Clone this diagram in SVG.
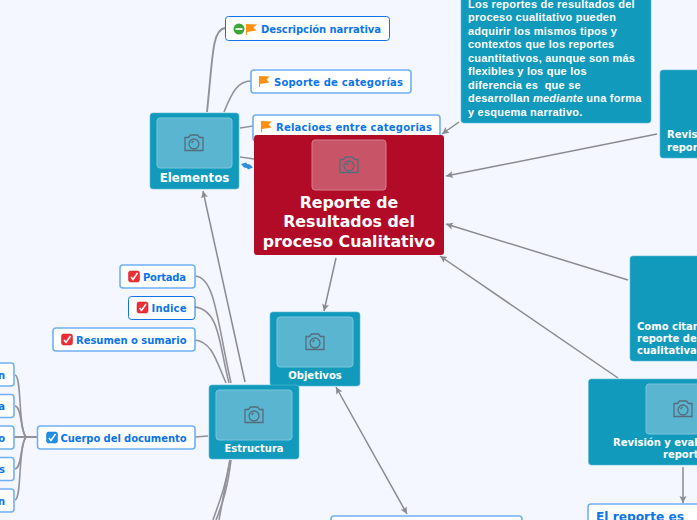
<svg xmlns="http://www.w3.org/2000/svg" width="697" height="520" viewBox="0 0 697 520">
<style>
text{font-family:"DejaVu Sans",sans-serif;font-weight:700}
.t{fill:#129abd;stroke:#5cb8d3;stroke-width:.6}
.im{fill:#5ab6d0;stroke:#79c5da;stroke-width:1}
.im2{fill:#c85468;stroke:#d77e8d;stroke-width:1}
.w{fill:#fff;stroke:#1473e6;stroke-width:1}
.w2{fill:#fff;stroke:#6fb0f5;stroke-width:1.6}
.l{fill:#0b74ea;font-size:10px}
.h{fill:#fff;font-size:10px}
.c{fill:none;stroke:#92929b;stroke-width:1.6}
.a{fill:none;stroke:#8a8a92;stroke-width:1.5;marker-end:url(#ar)}
.cam{fill:none;stroke:#566c7d;stroke-width:1.3}
.fl{fill:#fd8f12}
.box{fill:#ef2d35;stroke:#b81c22;stroke-width:.5}
.boxb{fill:#1e90e8;stroke:#1470c0;stroke-width:.5}
.ck{fill:none;stroke:#fff;stroke-width:1.5}
</style>
<defs>
<marker id="ar" markerWidth="8" markerHeight="8" refX="7" refY="4" orient="auto" markerUnits="userSpaceOnUse"><path d="M0 .5L7 4L0 7.5L1.5 4Z" fill="#8a8a92"/></marker>
<marker id="ars" markerWidth="8" markerHeight="8" refX="1" refY="4" orient="auto" markerUnits="userSpaceOnUse"><path d="M8 .5L1 4L8 7.5L6.5 4Z" fill="#8a8a92"/></marker>
<g id="camera"><path class="cam" d="M-9 -5.500H-5.500L-3.500 -8H3.500L5.500 -5.500H9V7.500H-9Z"/><circle class="cam" cx="0" cy="1" r="5"/><path class="cam" d="M-2.500 0L-.5 -2" stroke-width=".8"/></g>
<g id="flag"><path class="fl" d="M1 0L12 .5L8.500 3.500L11.500 6.500L2 8V11H1Z"/></g>
</defs>
<rect width="697" height="520" fill="#f4f7ff"/>
<g id="connectors">
<path class="c" style="stroke-width:1.9" d="M225 28C212 30 213 55 207 112"/>
<path class="c" d="M251 81C238 81 232 92 224 112"/>
<path class="c" d="M253 126L240 128"/>
<path class="c" d="M240 157L254 159"/>
<path class="c" d="M195 276C215 277 217 320 231 383"/>
<path class="c" d="M195 307C220 310 219 345 229 383"/>
<path class="c" d="M195 340C212 342 216 360 226 383"/>
<path class="c" d="M195 437L208 436"/>
<path class="c" d="M230 460C226 485 220 500 213 520"/>
<path class="c" d="M231 460C228 485 224 500 216 520"/>
<path class="c" d="M230 460L219 520"/>
<path class="c" d="M37 437H14" style="stroke-width:2"/>
<path class="c" d="M26 437C18 430 22 376 15 375"/>
<path class="c" d="M26 437C20 430 22 407 15 406"/>
<path class="c" d="M26 437C20 445 22 468 15 469"/>
<path class="c" d="M26 437C18 445 22 499 15 500"/>
<path class="a" d="M245 382L203 191"/>
<path class="a" d="M336 258L324 311"/>
<path class="a" d="M459 122L442 134"/>
<path class="a" d="M657 134L446 176"/>
<path class="a" d="M628 280L446 224"/>
<path class="a" d="M618 378L440 256"/>
<path class="a" d="M683 467V503"/>
<path class="a" style="marker-start:url(#ars)" d="M336 387L407 514"/>
<path d="M241 164L246 162.500L247 164L250 164.500L253 167.500L248 169.500L247 168L244 167.500Z" fill="#2f8fd8"/>
</g>
<g id="n-desc"><rect class="w" x="225.500" y="16.500" width="164" height="24" rx="3"/><circle cx="239" cy="29" r="5.500" fill="#3da53a"/><rect x="235.500" y="28" width="7" height="2" fill="#dff5dc"/><use href="#flag" x="245" y="24"/><text class="l" x="261" y="33" textLength="120">Descripción narrativa</text></g>
<g id="n-soporte"><rect class="w2" x="251" y="70" width="160" height="23" rx="3"/><use href="#flag" x="258" y="76"/><text class="l" x="274" y="86" textLength="129">Soporte de categorías</text></g>
<g id="n-relaciones"><rect class="w2" x="253" y="115" width="187" height="26" rx="3"/><use href="#flag" x="260" y="121"/><text class="l" x="276" y="131" textLength="156">Relacioes entre categorias</text></g>
<g id="n-elementos"><rect class="t" x="150" y="113" width="89" height="76" rx="3"/><rect class="im" x="157" y="118" width="75" height="50" rx="3"/><use href="#camera" x="194" y="143"/><text x="194.500" y="182" text-anchor="middle" fill="#fff" font-size="11.800">Elementos</text></g>
<g id="n-central"><rect x="254" y="135" width="190" height="120" rx="3" fill="#b10b28"/><rect class="im2" x="312" y="140" width="74" height="50" rx="3"/><use href="#camera" x="349" y="165"/><text fill="#fff" font-size="15.800" text-anchor="middle"><tspan x="349" y="208">Reporte de</tspan><tspan x="349" y="227">Resultados del</tspan><tspan x="349" y="247">proceso Cualitativo</tspan></text></g>
<g id="n-nota"><rect class="t" x="461" y="-10" width="190" height="133" rx="3"/><text fill="#fff" style="font-family:'Liberation Sans',sans-serif;font-size:11px;letter-spacing:.22px"><tspan x="468" y="8">Los reportes de resultados del</tspan><tspan x="468" y="21">proceso cualitativo pueden</tspan><tspan x="468" y="35">adquirir los mismos tipos y</tspan><tspan x="468" y="48">contextos que los reportes</tspan><tspan x="468" y="62">cuantitativos, aunque son más</tspan><tspan x="468" y="75">flexibles y los que los</tspan><tspan x="468" y="89" xml:space="preserve">diferencia es  que se</tspan><tspan x="468" y="102">desarrollan <tspan font-style="italic">mediante</tspan> una forma</tspan><tspan x="468" y="116">y esquema narrativo.</tspan></text></g>
<g id="n-revis"><rect class="t" x="660" y="70" width="60" height="88" rx="3"/><text class="h"><tspan x="667" y="138">Revis</tspan><tspan x="667" y="151">repor</tspan></text></g>
<g id="n-citar"><rect class="t" x="630" y="256" width="90" height="105" rx="3"/><text class="h"><tspan x="637" y="330">Como citar</tspan><tspan x="637" y="342">reporte de</tspan><tspan x="637" y="354">cualitativa</tspan></text></g>
<g id="n-revision"><rect class="t" x="588.500" y="379" width="130" height="86" rx="3"/><rect class="im" x="646" y="384" width="75" height="50" rx="3"/><use href="#camera" x="683" y="409"/><text class="h"><tspan x="613" y="446">Revisión y eval</tspan><tspan x="663" y="458">report</tspan></text></g>
<g id="n-objetivos"><rect class="t" x="270" y="312" width="90" height="74" rx="3"/><rect class="im" x="277" y="317" width="76" height="50" rx="3"/><use href="#camera" x="315" y="342"/><text x="315" y="379" text-anchor="middle" fill="#fff" font-size="10">Objetivos</text></g>
<g id="n-estructura"><rect class="t" x="209" y="385" width="90" height="74" rx="3"/><rect class="im" x="216" y="390" width="76" height="50" rx="3"/><use href="#camera" x="254" y="415"/><text x="254" y="452" text-anchor="middle" fill="#fff" font-size="10">Estructura</text></g>
<g id="n-portada"><rect class="w2" x="120" y="265" width="75" height="23" rx="3"/><rect class="box" x="128.500" y="271" width="11" height="11" rx="2"/><path class="ck" d="M131 277L133 279.500L137.500 273"/><text class="l" x="143" y="281" textLength="43">Portada</text></g>
<g id="n-indice"><rect class="w" x="128.500" y="296.500" width="66.500" height="23" rx="3"/><rect class="box" x="137" y="302" width="11" height="11" rx="2"/><path class="ck" d="M139.500 308L141.500 310.500L146 304"/><text class="l" x="151.500" y="312" textLength="35">Indice</text></g>
<g id="n-resumen"><rect class="w2" x="53" y="328" width="142" height="23" rx="3"/><rect class="box" x="61.500" y="334" width="11" height="11" rx="2"/><path class="ck" d="M64 340L66 342.500L70.500 336"/><text class="l" x="76" y="344" textLength="110.500">Resumen o sumario</text></g>
<g id="n-cuerpo"><rect class="w2" x="37.500" y="426" width="157.500" height="23" rx="3"/><rect class="boxb" x="46.500" y="432" width="11" height="11" rx="2"/><path class="ck" d="M49 438L51 440.500L55.500 434"/><text class="l" x="60.500" y="442" textLength="126">Cuerpo del documento</text></g>
<g id="n-h1"><rect class="w2" x="-20" y="363" width="34" height="23" rx="3"/><text class="l" x="5" y="379" text-anchor="end">n</text></g>
<g id="n-h2"><rect class="w2" x="-20" y="394.500" width="34" height="23" rx="3"/><text class="l" x="5" y="410" text-anchor="end">a</text></g>
<g id="n-h3"><rect class="w2" x="-20" y="426" width="34" height="23" rx="3"/><text class="l" x="5" y="442" text-anchor="end">o</text></g>
<g id="n-h4"><rect class="w2" x="-20" y="457.500" width="34" height="23" rx="3"/><text class="l" x="5" y="473" text-anchor="end">s</text></g>
<g id="n-h5"><rect class="w2" x="-20" y="489" width="34" height="23" rx="3"/><text class="l" x="5" y="505" text-anchor="end">n</text></g>
<g id="n-bottom"><rect class="w2" x="331" y="516" width="191" height="20" rx="3"/></g>
<g id="n-reporte"><rect class="w2" x="588" y="504" width="130" height="30" rx="3"/><text x="596" y="521" fill="#0b74ea" font-size="12.200">El reporte es</text></g>
</svg>
